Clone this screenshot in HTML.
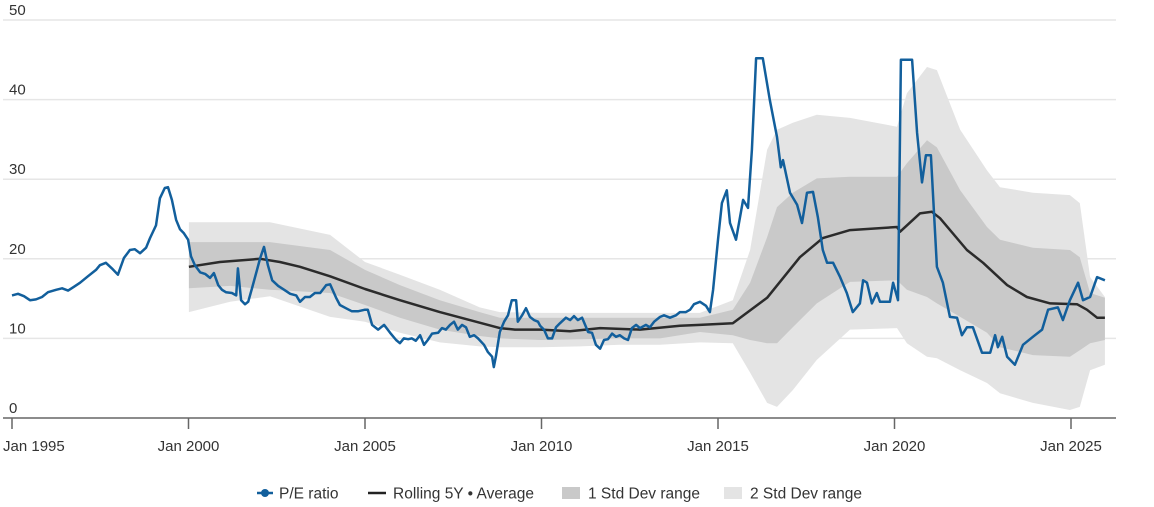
<!DOCTYPE html>
<html><head><meta charset="utf-8">
<style>
html,body{margin:0;padding:0;background:#fff;}
svg{display:block;font-family:"Liberation Sans","DejaVu Sans",sans-serif;}
</style></head>
<body>
<svg id="chart" width="1154" height="507" viewBox="0 0 1154 507" xmlns="http://www.w3.org/2000/svg">
<g id="grid"></g>
<g id="bands"></g>
<g id="lines"></g>
<g id="axes"></g>
<g id="legend">
  <g>
    <line x1="257" y1="493" x2="273" y2="493" stroke="#125f9c" stroke-width="2.5"/>
    <circle cx="265" cy="493" r="4" fill="#125f9c"/>
    <text x="279" y="498.5" font-size="15.5" fill="#333">P/E ratio</text>
  </g>
  <g>
    <line x1="368" y1="493" x2="386" y2="493" stroke="#222" stroke-width="2.5"/>
    <text x="393" y="498.5" font-size="15.5" fill="#333">Rolling 5Y • Average</text>
  </g>
  <g>
    <rect x="562" y="487" width="18" height="12" fill="#c9c9c9"/>
    <text x="588" y="498.5" font-size="15.5" fill="#333">1 Std Dev range</text>
  </g>
  <g>
    <rect x="724" y="487" width="18" height="12" fill="#e4e4e4"/>
    <text x="750" y="498.5" font-size="15.5" fill="#333">2 Std Dev range</text>
  </g>
</g>
</svg>
<script>
const peDates=[1995.00,1995.17,1995.34,1995.51,1995.68,1995.85,1996.02,1996.25,1996.42,1996.59,1996.76,1996.93,1997.15,1997.38,1997.49,1997.66,1997.83,1998.00,1998.17,1998.34,1998.48,1998.63,1998.80,1998.91,1999.08,1999.19,1999.33,1999.42,1999.53,1999.65,1999.76,1999.87,1999.99,2000.07,2000.18,2000.33,2000.47,2000.61,2000.72,2000.84,2000.95,2001.06,2001.23,2001.35,2001.40,2001.49,2001.60,2001.69,2001.80,2001.94,2002.03,2002.14,2002.25,2002.37,2002.54,2002.71,2002.88,2003.05,2003.16,2003.30,2003.44,2003.58,2003.73,2003.90,2004.01,2004.18,2004.29,2004.46,2004.63,2004.80,2005.00,2005.08,2005.20,2005.37,2005.54,2005.71,2005.88,2005.99,2006.10,2006.22,2006.33,2006.44,2006.56,2006.67,2006.78,2006.90,2007.07,2007.18,2007.29,2007.41,2007.52,2007.63,2007.75,2007.86,2007.97,2008.09,2008.20,2008.37,2008.48,2008.60,2008.65,2008.71,2008.82,2008.94,2009.05,2009.16,2009.28,2009.33,2009.45,2009.56,2009.67,2009.79,2009.90,2009.96,2010.07,2010.18,2010.30,2010.41,2010.52,2010.69,2010.81,2010.92,2011.03,2011.15,2011.32,2011.43,2011.54,2011.66,2011.77,2011.88,2012.00,2012.11,2012.22,2012.34,2012.45,2012.56,2012.68,2012.79,2012.96,2013.07,2013.19,2013.36,2013.47,2013.64,2013.81,2013.92,2014.09,2014.21,2014.32,2014.49,2014.66,2014.77,2014.86,2015.00,2015.11,2015.25,2015.34,2015.51,2015.71,2015.85,2015.96,2016.08,2016.27,2016.47,2016.67,2016.78,2016.84,2017.04,2017.24,2017.38,2017.52,2017.69,2017.83,2017.97,2018.09,2018.26,2018.46,2018.65,2018.82,2019.02,2019.11,2019.22,2019.36,2019.50,2019.59,2019.87,2019.96,2020.10,2020.18,2020.50,2020.64,2020.78,2020.89,2021.03,2021.15,2021.20,2021.37,2021.57,2021.77,2021.91,2022.05,2022.22,2022.48,2022.71,2022.85,2022.93,2023.05,2023.19,2023.41,2023.64,2023.92,2024.18,2024.35,2024.63,2024.77,2024.97,2025.20,2025.34,2025.54,2025.74,2025.96];
const peValues=[15.4,15.6,15.3,14.8,14.9,15.2,15.8,16.1,16.3,16.0,16.5,17.0,17.8,18.6,19.2,19.5,18.8,18.0,20.1,21.1,21.2,20.7,21.4,22.6,24.2,27.6,28.9,29.0,27.4,24.9,23.7,23.2,22.4,20.3,19.2,18.3,18.1,17.6,18.2,16.7,16.1,15.8,15.7,15.4,18.8,14.8,14.3,14.6,16.3,18.6,20.1,21.5,19.2,17.3,16.6,16.1,15.6,15.4,14.6,15.2,15.2,15.7,15.7,16.7,16.8,15.1,14.2,13.8,13.4,13.4,13.6,13.6,11.7,11.1,11.7,10.7,9.8,9.4,10.0,9.9,10.0,9.7,10.4,9.2,9.8,10.6,10.7,11.3,11.1,11.7,12.1,11.1,11.7,11.4,10.2,10.4,10.0,9.2,8.3,7.7,6.4,7.8,10.8,12.1,12.9,14.8,14.8,12.1,12.9,13.8,12.7,12.3,12.1,11.6,11.1,10.0,10.0,11.4,11.9,12.6,12.3,12.8,12.3,12.6,10.8,10.7,9.2,8.7,9.8,9.9,10.6,10.2,10.4,10.0,9.8,11.3,11.7,11.3,11.7,11.4,12.1,12.7,12.9,12.6,12.9,13.3,13.3,13.6,14.3,14.6,14.1,13.3,16.1,22.4,27.0,28.6,24.5,22.4,27.4,26.4,33.7,45.2,45.2,39.9,35.3,31.5,32.4,28.3,26.8,24.5,28.3,28.4,25.2,21.1,19.5,19.5,17.7,15.7,13.3,14.4,17.3,17.0,14.4,15.7,14.6,14.6,17.0,14.8,45.0,45.0,35.8,29.6,33.0,33.0,23.2,19.0,17.0,12.7,12.6,10.4,11.4,11.4,8.2,8.2,10.4,8.9,10.2,7.7,6.7,9.2,10.2,11.1,13.6,13.9,12.3,14.8,17.0,14.8,15.2,17.7,17.3];
const avgDates=[2000.01,2000.89,2002.03,2002.59,2003.16,2004.01,2005.00,2005.99,2007.12,2007.97,2008.82,2009.25,2009.99,2010.81,2011.66,2012.79,2013.92,2014.49,2015.42,2016.39,2017.32,2017.97,2018.74,2020.07,2020.16,2020.72,2021.06,2021.29,2022.05,2022.51,2023.19,2023.75,2024.41,2025.17,2025.45,2025.74,2025.96];
const avgValues=[19.0,19.6,20.0,19.6,19.0,17.8,16.2,14.8,13.3,12.3,11.3,11.1,11.1,10.9,11.3,11.1,11.6,11.7,11.9,15.1,20.2,22.6,23.6,24.0,23.4,25.7,25.9,25.1,21.1,19.5,16.7,15.2,14.4,14.3,13.6,12.6,12.6];
const bandDates=[2000.01,2001.18,2002.31,2004.01,2005.00,2005.99,2007.12,2008.25,2008.82,2009.99,2011.09,2012.22,2013.36,2014.49,2015.42,2015.91,2016.39,2016.67,2017.12,2017.80,2018.74,2020.07,2020.35,2020.92,2021.20,2021.86,2022.62,2022.99,2023.92,2024.97,2025.25,2025.54,2025.96];
const upper2=[24.6,24.6,24.6,23.0,19.6,18.0,16.1,13.9,13.3,13.2,13.2,13.2,13.2,13.2,14.8,21.1,33.7,36.2,37.1,38.1,37.7,36.6,40.8,44.1,43.7,36.2,31.1,29.0,28.3,28.0,27.0,17.7,15.2];
const upper1=[22.1,22.1,22.1,21.1,18.6,16.7,14.8,13.3,12.6,12.6,12.6,12.6,12.6,12.6,13.6,17.0,22.7,26.5,28.3,30.1,30.3,30.3,32.0,34.9,34.0,28.6,24.0,22.4,21.4,21.1,20.2,15.7,15.1];
const lower1=[16.3,16.6,16.1,15.7,14.2,12.6,11.1,10.3,10.0,9.8,9.9,10.0,10.0,10.8,10.4,9.8,9.4,9.4,11.4,14.4,17.1,17.3,16.1,15.2,14.4,12.7,10.7,8.9,7.9,7.7,8.5,9.4,9.8];
const lower2=[13.3,14.6,15.3,12.7,12.1,10.7,9.5,9.0,8.9,8.9,9.0,9.2,9.2,9.5,9.4,5.7,1.9,1.4,3.5,7.3,11.1,11.3,9.4,7.7,7.5,6.0,4.4,3.1,1.9,1.0,1.4,6.0,6.7];
const yTicks=[0,10,20,30,40,50];
const xTickYears=[1995,2000,2005,2010,2015,2020,2025];
const xTickLabels=["Jan 1995","Jan 2000","Jan 2005","Jan 2010","Jan 2015","Jan 2020","Jan 2025"];

const NS="http://www.w3.org/2000/svg";
function xs(year){return 12+(year-1995)*35.3;}
function ys(v){return 418-v*7.96;}
function mk(tag,attrs,parent){const e=document.createElementNS(NS,tag);for(const k in attrs)e.setAttribute(k,attrs[k]);parent.appendChild(e);return e;}
function linePath(d,v){return d.map((t,i)=>(i?'L':'M')+xs(t).toFixed(1)+','+ys(v[i]).toFixed(1)).join('');}
function areaPath(d,hi,lo){let s=d.map((t,i)=>(i?'L':'M')+xs(t).toFixed(1)+','+ys(hi[i]).toFixed(1)).join('');for(let i=d.length-1;i>=0;i--)s+='L'+xs(d[i]).toFixed(1)+','+ys(lo[i]).toFixed(1);return s+'Z';}

const grid=document.getElementById('grid');
yTicks.forEach(v=>{
  if(v>0){const g=mk('line',{x1:3,x2:1116,y1:ys(v),y2:ys(v),stroke:'#e6e6e6','stroke-width':1.5},grid);
  
  }
  const t=mk('text',{x:9,y:ys(v)-5,'font-size':15,fill:'#333'},grid);
  
  
  t.textContent=v;
});

const bands=document.getElementById('bands');
const b2=mk('path',{d:areaPath(bandDates,upper2,lower2),fill:'#e4e4e4'},bands);


const b1=mk('path',{d:areaPath(bandDates,upper1,lower1),fill:'#c9c9c9'},bands);



const lines=document.getElementById('lines');
const al=mk('path',{d:linePath(avgDates,avgValues),fill:'none',stroke:'#2b2b2b','stroke-width':2.5,'stroke-linejoin':'round'},lines);


const pl=mk('path',{d:linePath(peDates,peValues),fill:'none',stroke:'#125f9c','stroke-width':2.5,'stroke-linejoin':'round'},lines);



const axes=document.getElementById('axes');
const ax=mk('line',{x1:3,x2:1116,y1:418,y2:418,stroke:'#666','stroke-width':1.5},axes);


xTickYears.forEach((yr,i)=>{
  const tk=mk('line',{x1:xs(yr),x2:xs(yr),y1:418,y2:429,stroke:'#666','stroke-width':1.5},axes);
  
  
  const first=(i===0);
  const t=mk('text',{x:first?3:xs(yr),y:451,'font-size':15,fill:'#333','text-anchor':first?'start':'middle'},axes);
  
  
  t.textContent=xTickLabels[i];
});
</script>
</body></html>
